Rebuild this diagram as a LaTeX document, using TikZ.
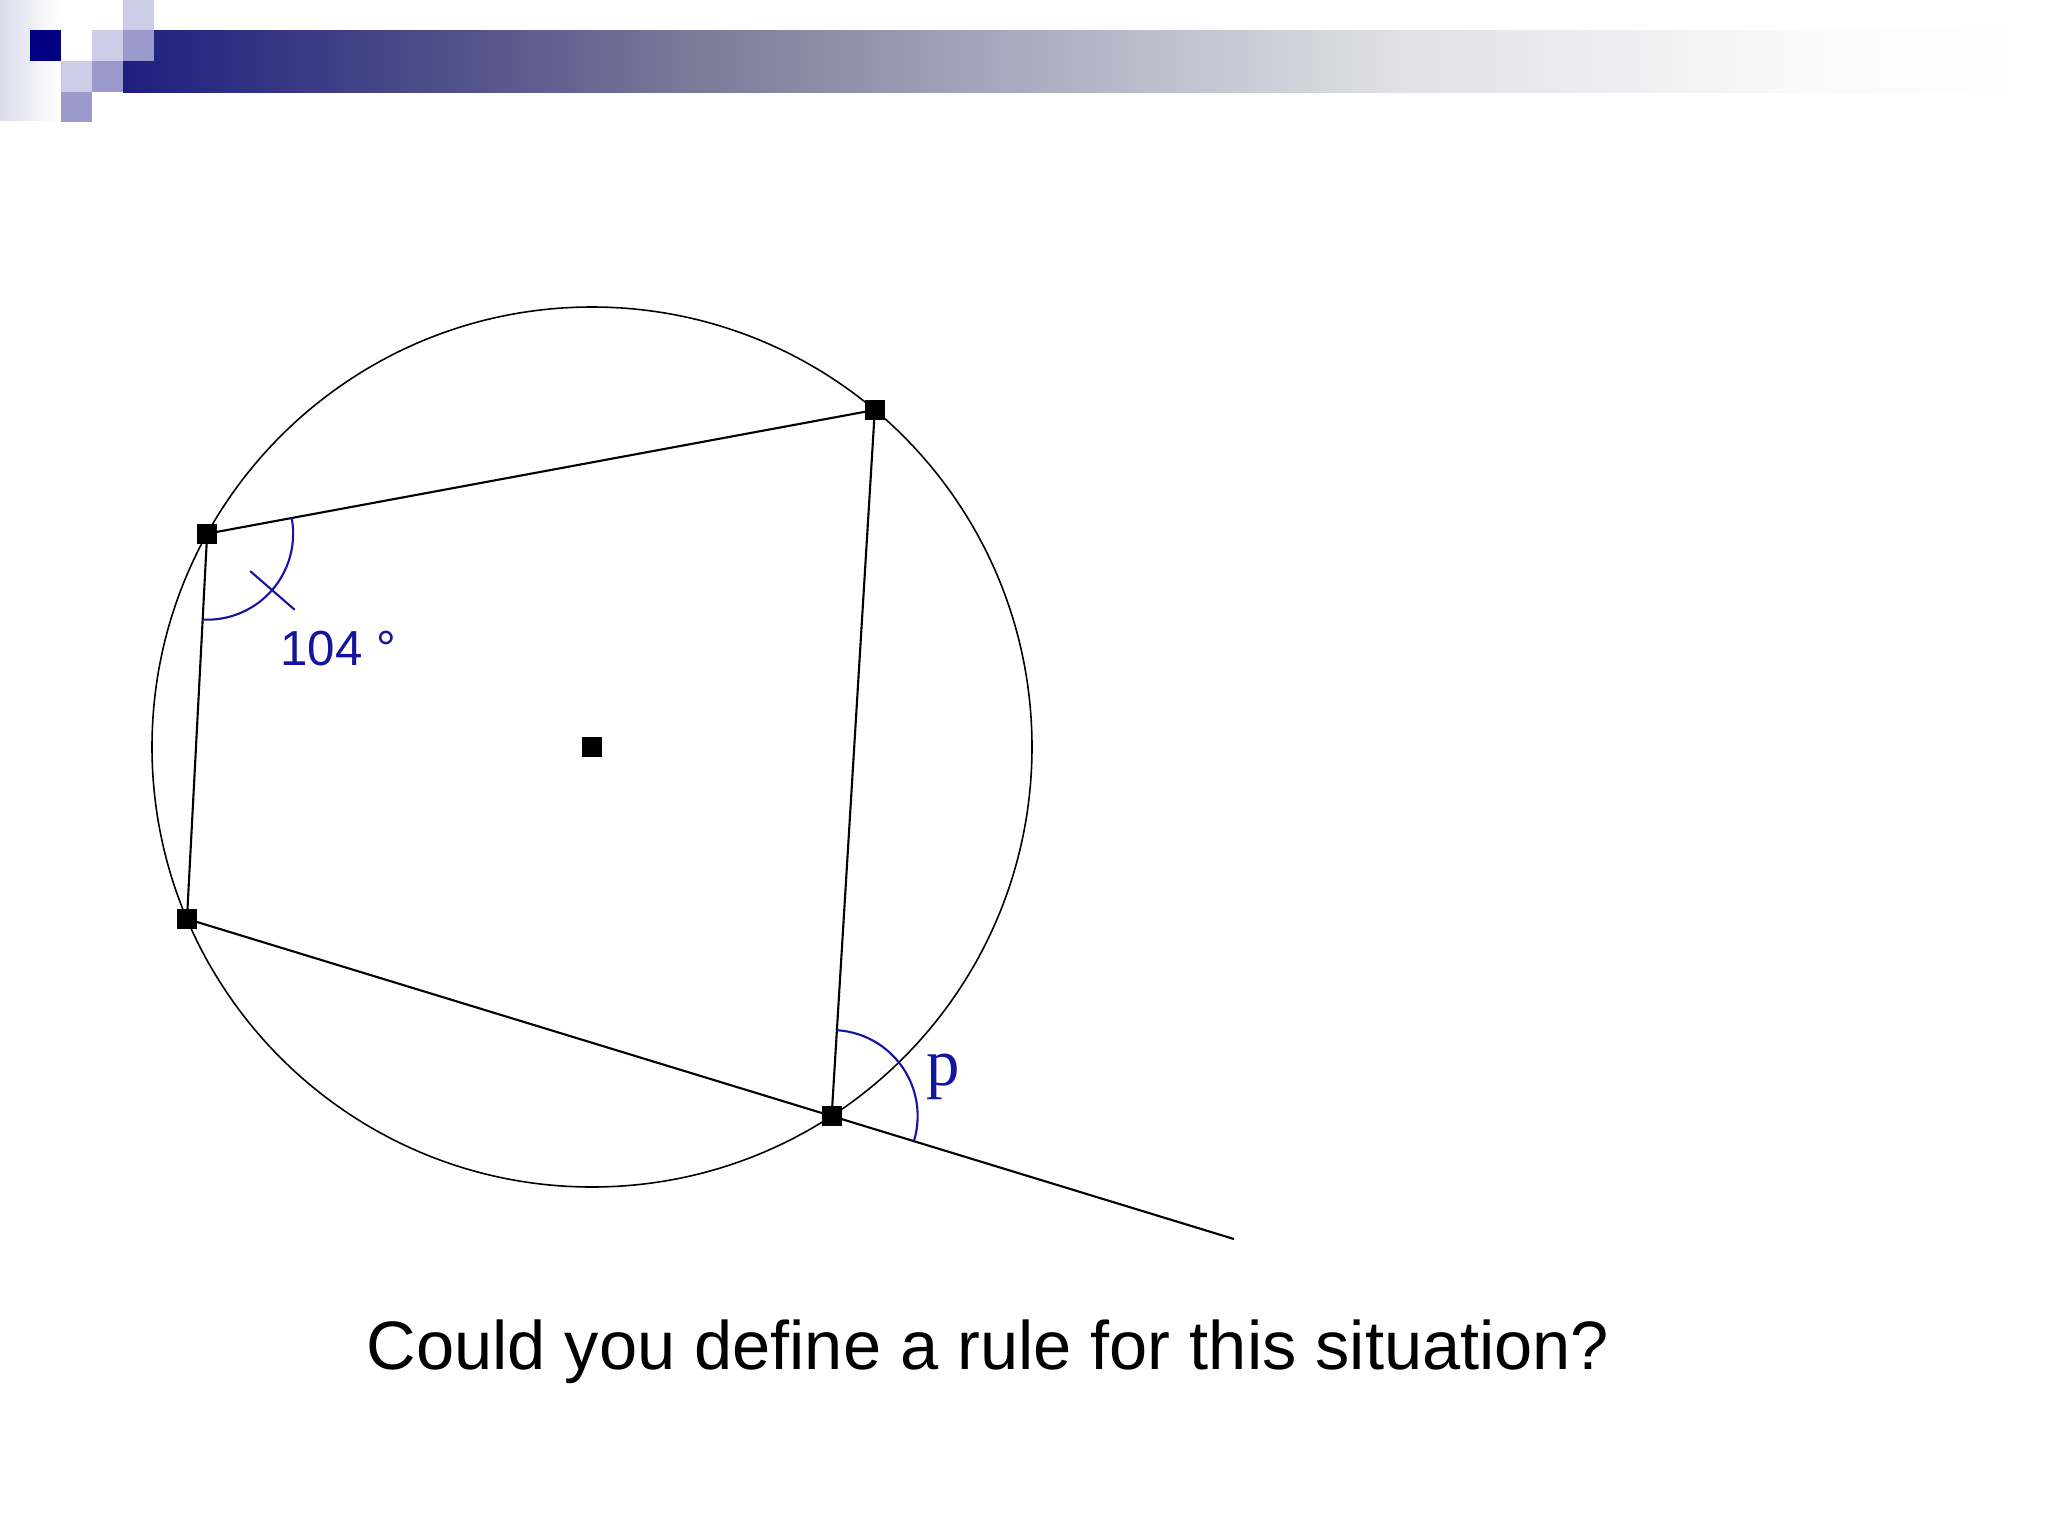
\documentclass[tikz,border=0pt]{standalone}
\usepackage{fontspec}
\setmainfont{Liberation Sans}
\newfontfamily\timesfont{Liberation Serif}
\usepackage{tikz}
\usetikzlibrary{calc}
\usetikzlibrary{positioning}
\definecolor{sqnavy}{RGB}{0,0,128}
\definecolor{sqmid}{RGB}{153,153,204}
\definecolor{sqlight}{RGB}{204,204,230}
\definecolor{markblue}{RGB}{20,20,160}
\pgfdeclarehorizontalshading{headbar}{100bp}{rgb(0bp)=(0.12,0.12,0.5); rgb(25bp)=(0.12,0.12,0.5);
  rgb(33.5bp)=(0.31,0.31,0.54); rgb(40bp)=(0.48,0.48,0.6); rgb(49.5bp)=(0.69,0.69,0.77);
  rgb(58.5bp)=(0.88,0.88,0.9); rgb(69bp)=(0.98,0.98,0.98); rgb(75bp)=(1,1,1); rgb(100bp)=(1,1,1)}
\tikzset{vert/.style = {fill, rectangle, inner sep = 0, minimum size = 5.7pt}}
\tikzset{chord/.style = {line width = 0.6pt}}
\tikzset{anglemark/.style = {markblue, line width = 0.6pt}}
\tikzset{anglelabel/.style = {markblue, anchor = base, inner sep = 0}}

\begin{document}
\begin{tikzpicture}[x = 0.01cm, y = 0.01cm]
    \useasboundingbox (0, 0) rectangle (2048, -1536);

    \shade [left color = sqlight!70, right color = white] (0, 0) rectangle (60, -120);
    \shade [shading = headbar] (123, -30) rectangle (2030, -92);
    \fill [sqnavy] (30, -30) rectangle (61, -61);
    \fill [sqlight] (92, -30) rectangle (123, -61);
    \fill [sqmid] (123, -30) rectangle (154, -61);
    \fill [sqlight] (123, 0) rectangle (154, -30);
    \fill [sqlight] (61, -61) rectangle (92, -92);
    \fill [sqmid] (92, -61) rectangle (123, -92);
    \fill [sqmid] (61, -92) rectangle (92, -122);

    \node [vert] (O) at (592, -747) {};
    \draw [line width = 0.45pt] (O.center) circle [radius = 440];
    \node [vert] (A) at ($(O) + (151:440)$) {};
    \node [vert] (B) at ($(O) + (50:440)$) {};
    \node [vert] (C) at ($(O) + (-57:440)$) {};
    \node [vert] (D) at ($(O) + (203:440)$) {};
    \coordinate (E) at ($(D)!1.624!(C)$);

    \draw [chord] (A.center) -- (B.center) -- (C.center) -- (D.center) -- cycle;
    \draw [chord] (C.center) -- (E);

    \draw [anglemark] ($(A) + (10.5:86)$) arc [start angle = 10.5, end angle = -93, radius = 86];
    \draw [anglemark] ($(A) + (-41:57)$) -- ($(A) + (-41:116)$);
    \node [anglelabel, font = \fontsize{14}{16}\selectfont] (angA) at ($(A) + (131, -132)$) {104 °};

    \draw [anglemark] ($(C) + (86.5:86)$) arc [start angle = 86.5, end angle = -17, radius = 86];
    \node [anglelabel, font = \timesfont\fontsize{19}{22}\selectfont] (angC) at ($(C) + (112, 31)$) {p};

    \node [anchor = base, font = \fontsize{19.5}{23}\selectfont] (question) at (988, -1369) {Could you define a rule for this situation?};
  \end{tikzpicture}
\end{document}
